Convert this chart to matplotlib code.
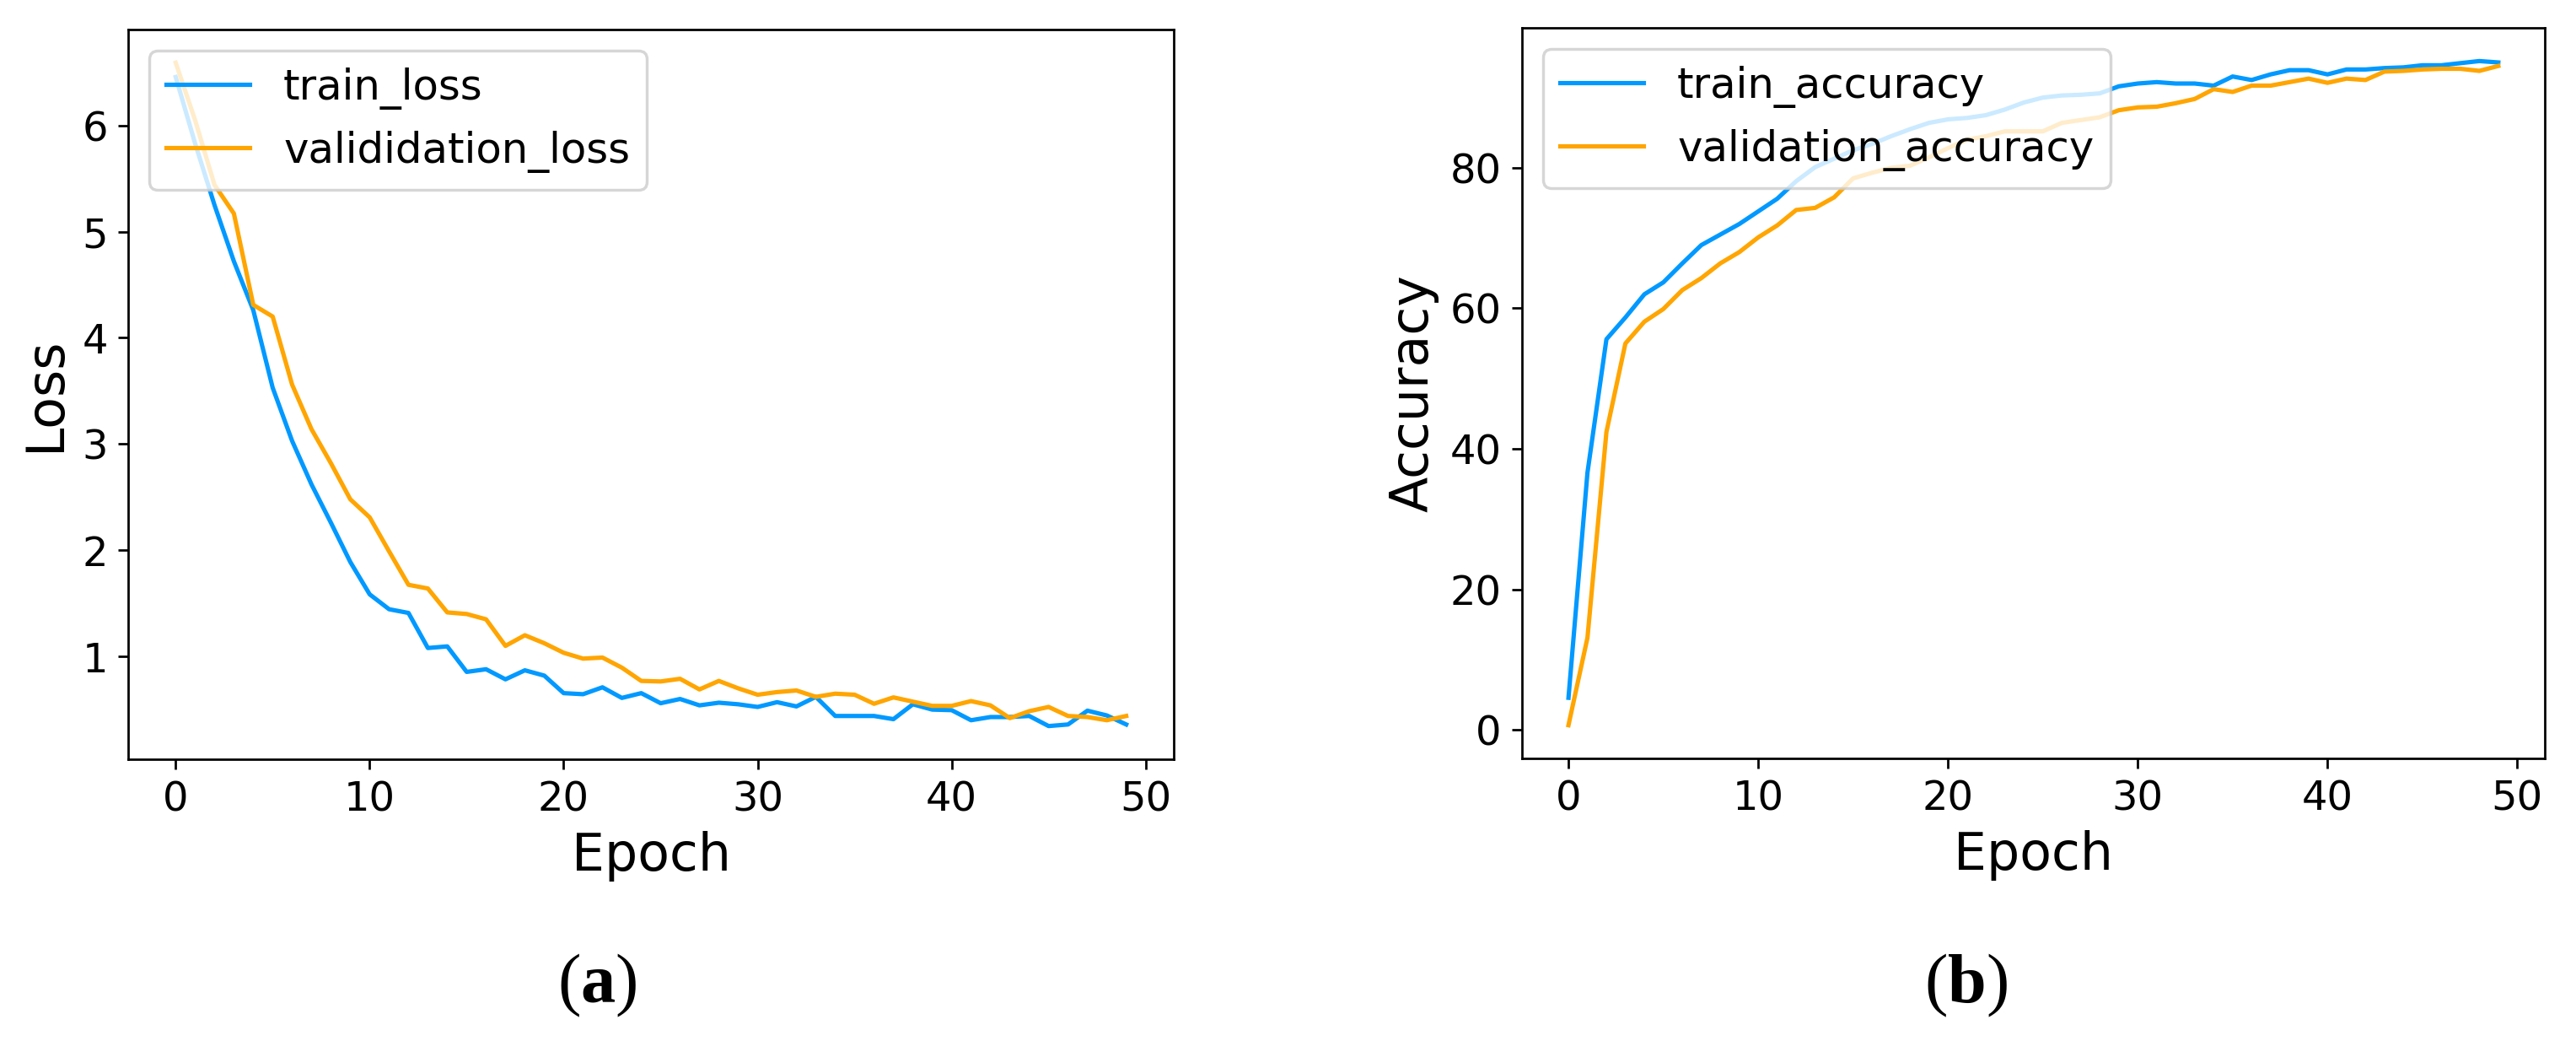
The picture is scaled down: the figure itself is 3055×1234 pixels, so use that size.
import matplotlib
matplotlib.use("Agg")
import matplotlib.pyplot as plt

plt.rcParams['font.family'] = ['DejaVu Sans']
plt.rcParams['mathtext.fontset'] = 'custom'
plt.rcParams['mathtext.rm'] = 'Liberation Serif'
plt.rcParams['mathtext.it'] = 'Liberation Serif:italic'
plt.rcParams['mathtext.bf'] = 'Liberation Serif:bold'

epochs = list(range(50))

train_loss = [6.455, 5.83, 5.25, 4.72, 4.26, 3.53, 3.03, 2.62, 2.26, 1.89,
              1.585, 1.445, 1.41, 1.08, 1.095, 0.855, 0.88, 0.785, 0.87, 0.82,
              0.655, 0.645, 0.71, 0.61, 0.655, 0.56, 0.60, 0.54, 0.565, 0.55,
              0.525, 0.57, 0.53, 0.62, 0.44, 0.44, 0.44, 0.41, 0.55, 0.50,
              0.495, 0.40, 0.43, 0.43, 0.44, 0.345, 0.36, 0.49, 0.445, 0.36]
val_loss = [6.59, 6.05, 5.44, 5.17, 4.31, 4.20, 3.56, 3.14, 2.82, 2.48,
            2.31, 1.99, 1.675, 1.64, 1.415, 1.40, 1.35, 1.10, 1.20, 1.125,
            1.035, 0.98, 0.99, 0.895, 0.77, 0.765, 0.79, 0.69, 0.77, 0.70,
            0.64, 0.665, 0.68, 0.62, 0.65, 0.64, 0.555, 0.615, 0.575, 0.535,
            0.535, 0.58, 0.54, 0.42, 0.485, 0.525, 0.44, 0.43, 0.40, 0.44]

train_acc = [4.56, 36.6, 55.6, 58.7, 62.0, 63.7, 66.4, 69.0, 70.5, 72.0,
             73.8, 75.6, 78.1, 80.1, 81.3, 82.5, 83.4, 84.5, 85.5, 86.4,
             86.9, 87.1, 87.5, 88.3, 89.3, 90.0, 90.3, 90.4, 90.6, 91.6,
             92.0, 92.2, 92.0, 92.0, 91.7, 93.0, 92.5, 93.3, 93.9, 93.9,
             93.3, 94.0, 94.0, 94.2, 94.3, 94.6, 94.6, 94.9, 95.2, 95.0]
val_acc = [0.66, 13.1, 42.4, 55.0, 58.1, 59.9, 62.6, 64.3, 66.4, 68.0,
           70.1, 71.8, 74.0, 74.3, 75.8, 78.5, 79.3, 80.0, 80.3, 81.5,
           82.8, 84.0, 84.5, 85.2, 85.2, 85.2, 86.4, 86.8, 87.2, 88.2,
           88.6, 88.7, 89.2, 89.8, 91.2, 90.8, 91.7, 91.7, 92.2, 92.7,
           92.1, 92.7, 92.5, 93.7, 93.8, 94.0, 94.1, 94.1, 93.8, 94.5]

BLUE = '#0099FF'
ORANGE = '#FFA500'

DPI = 247
fig = plt.figure(figsize=(3055 / DPI, 1234 / DPI), dpi=DPI)

ax1 = fig.add_axes([152 / 3055, 1 - 900 / 1234, 1240 / 3055, 865 / 1234])
ax1.plot(epochs, train_loss, color=BLUE, label='train_loss')
ax1.plot(epochs, val_loss, color=ORANGE, label='valididation_loss')
ax1.set_xlabel('Epoch', fontsize=18)
ax1.set_ylabel('Loss', fontsize=18)
ax1.tick_params(labelsize=14)
ax1.set_xticks([0, 10, 20, 30, 40, 50])
ax1.legend(loc='upper left', fontsize=14.5)

ax2 = fig.add_axes([1805 / 3055, 1 - 899 / 1234, 1213 / 3055, 866 / 1234])
ax2.plot(epochs, train_acc, color=BLUE, label='train_accuracy')
ax2.plot(epochs, val_acc, color=ORANGE, label='validation_accuracy')
ax2.set_xlabel('Epoch', fontsize=18)
ax2.set_ylabel('Accuracy', fontsize=18)
ax2.tick_params(labelsize=14)
ax2.set_xticks([0, 10, 20, 30, 40, 50])
ax2.legend(loc='upper left', fontsize=14.5)

fig.text(708 / 3055, 1 - 1168 / 1234, r'$(\mathbf{a})$', ha='center', va='center', fontsize=24)
fig.text(2331 / 3055, 1 - 1168 / 1234, r'$(\mathbf{b})$', ha='center', va='center', fontsize=24)

fig.savefig('out.png', dpi=DPI)
